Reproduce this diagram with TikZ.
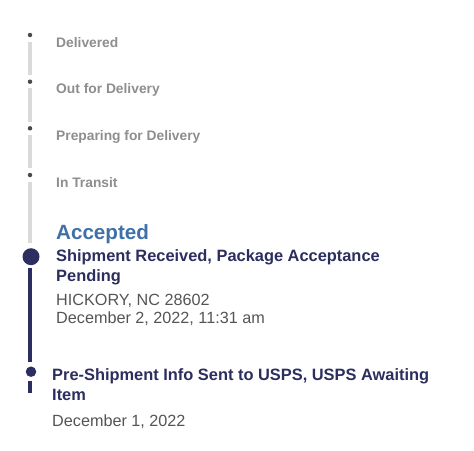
\documentclass[tikz,border=0pt]{standalone}
\usepackage{fontspec}
\setmainfont{Liberation Sans}
\definecolor{greytext}{HTML}{8E8E8E}
\definecolor{greybar}{HTML}{DADADA}
\definecolor{greydot}{HTML}{4A4A4A}
\definecolor{bluehead}{HTML}{3F70A8}
\definecolor{navy}{HTML}{2B2E5E}
\definecolor{darktext}{HTML}{555555}
\tikzset{
  lbl/.style={anchor=base west, inner sep=0pt},
  pending/.style={lbl, text=greytext, font=\fontsize{13.8}{16}\selectfont\bfseries},
  headline/.style={lbl, text=bluehead, font=\fontsize{20.6}{24}\selectfont\bfseries},
  eventtitle/.style={lbl, text=navy, font=\fontsize{16.4}{20}\selectfont\bfseries},
  eventinfo/.style={lbl, text=darktext, font=\fontsize{16.2}{18.3}\selectfont},
  smalldot/.style={circle, fill=greydot, inner sep=0pt, minimum size=4.5pt},
  bigdot/.style={circle, fill=navy, inner sep=0pt, minimum size=17pt},
  middot/.style={circle, fill=navy, inner sep=0pt, minimum size=10.5pt},
  greyseg/.style={draw=greybar, line width=4pt},
  navyseg/.style={draw=navy, line width=4pt},
}
\begin{document}
\begin{tikzpicture}[x=1pt, y=-1pt]
\useasboundingbox[fill=white] (0,0) rectangle (474,450);
% small grey dots
\node[smalldot] (d1) at (30,35) {};
\node[smalldot] (d2) at (30,81.7) {};
\node[smalldot] (d3) at (30,128.3) {};
\node[smalldot] (d4) at (30,175) {};
\node[bigdot] (d5) at (31,256.7) {};
\node[middot] (d6) at (31,371.7) {};
% segment endpoints
\coordinate (s1a) at (30,41.7);  \coordinate (s1b) at (30,75);
\coordinate (s2a) at (30,88.3);  \coordinate (s2b) at (30,121.7);
\coordinate (s3a) at (30,135);   \coordinate (s3b) at (30,168.3);
\coordinate (s4a) at (30,181.7); \coordinate (s4b) at (30,243);
\coordinate (n1a) at (30,267.7); \coordinate (n1b) at (30,361.7);
\coordinate (n2a) at (30,380.7); \coordinate (n2b) at (30,393.3);
\draw[greyseg] (s1a) -- (s1b);
\draw[greyseg] (s2a) -- (s2b);
\draw[greyseg] (s3a) -- (s3b);
\draw[greyseg] (s4a) -- (s4b);
\draw[navyseg] (n1a) -- (n1b);
\draw[navyseg] (n2a) -- (n2b);
% labels
\node[pending] (t1) at (56,47) {Delivered};
\node[pending] (t2) at (56,93.5) {Out for Delivery};
\node[pending] (t3) at (56,140) {Preparing for Delivery};
\node[pending] (t4) at (56,187) {In Transit};
\node[headline] (acc) at (56,239.3) {Accepted};
\node[eventtitle] (e1) at (56,261.7) {Shipment Received, Package Acceptance};
\node[eventtitle] (e1b) at (56,281.7) {Pending};
\node[eventinfo] (e1i) at (56,305) {HICKORY, NC 28602};
\node[eventinfo] (e1d) at (56,323.3) {December 2, 2022, 11:31 am};
\node[eventtitle] (e2) at (52,380) {Pre-Shipment Info Sent to USPS, USPS Awaiting};
\node[eventtitle] (e2b) at (52,400) {Item};
\node[eventinfo] (e2i) at (52,426.7) {December 1, 2022};
\end{tikzpicture}
\end{document}
